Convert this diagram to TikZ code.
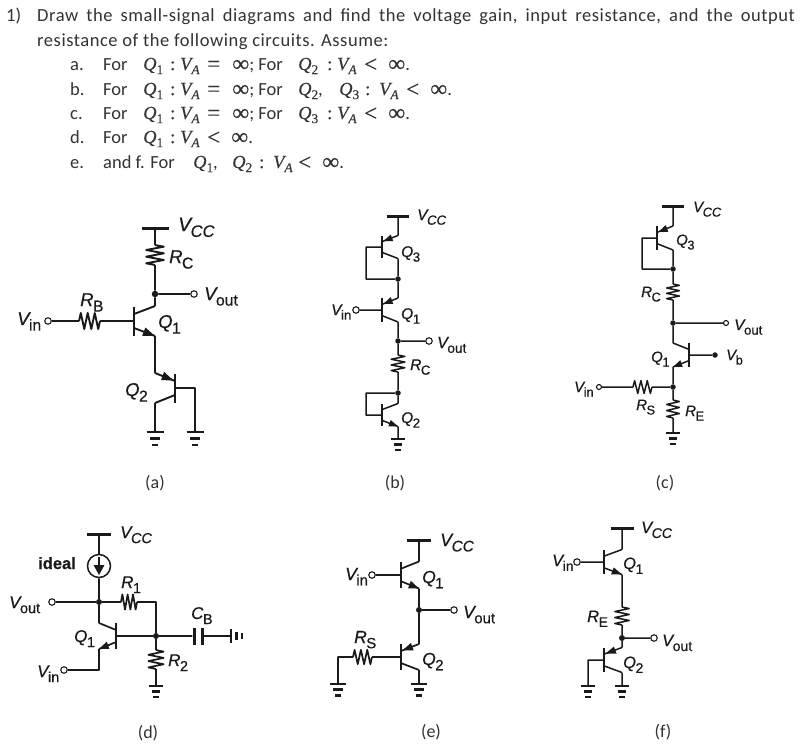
\documentclass[tikz,border=0pt]{standalone}
\usepackage{fontspec}
\setmainfont{Carlito}
\newfontfamily\wide[LetterSpace=3,WordSpace=1.7]{Carlito}
\newfontfamily\ckt[FakeBold=0.5]{Liberation Sans}
\newfontfamily\mth[FakeBold=0.2]{Liberation Serif}
\newcommand\sz[1]{\fontsize{#1}{#1}\selectfont}
\newcommand\lab[2]{{\itshape #1}\kern-.03em\raisebox{-.3em}{\scalebox{.85}{#2}}}
\newcommand\mQ[1]{{\mth\itshape Q}\raisebox{-.22em}{\scalebox{.72}{\mth #1}}}
\newcommand\mQb[1]{\makebox[27pt][l]{\mQ{#1}}}
\newcommand\mCl{\makebox[10pt][l]{\mth :}}
\newcommand\mV{\makebox[27pt][l]{{\mth\itshape V}\raisebox{-.22em}{\scalebox{.72}{\mth\itshape A}}}}
\newcommand\mEq{\makebox[25pt][l]{\raisebox{-.08em}{\scalebox{1.25}{\mth =}}}}
\newcommand\mLt{\makebox[24pt][l]{\raisebox{-.1em}{\scalebox{1.25}{\mth <}}}}
\newcommand\mInf{\raisebox{-.08em}{\scalebox{1.3}{\mth ∞}}}
\definecolor{ink}{HTML}{1A1A1A}
\definecolor{txt}{HTML}{333333}
\tikzset{
  wire/.style={draw=ink,line width=1.5pt,line join=round},
  barline/.style={draw=ink,line width=2.8pt},
  dot/.style={circle,fill=ink,inner sep=0pt,minimum size=6.5pt},
  term/.style={circle,draw=ink,fill=white,line width=1.1pt,inner sep=0pt,minimum size=6.5pt},
  rail/.style={rectangle,fill=ink,inner sep=0pt,minimum height=3pt},
  plate/.style={rectangle,fill=ink,inner sep=0pt,minimum width=3pt,minimum height=17pt},
  cl/.style={anchor=base west,inner sep=0pt,text=ink,font=\ckt},
  subcap/.style={inner sep=0pt,text=txt,font=\sz{18}},
  tl/.style={anchor=base west,inner sep=0pt,text=txt,font=\sz{18.5}},
  heavy/.style={wire/.append style={line width=1.9pt}},
  pics/bjtn/.style={code={
    \draw[barline] (0,-14.5)--(0,14.5);
    \coordinate (-b) at (0,0);
    \coordinate (-c) at (21,-15);
    \coordinate (-e) at (21,15);
    \draw[wire] (0,-7)--(-c);
    \draw[wire] (0,7)--(-e);
    \fill[ink] (-e)--(8.2,14.9)--(11.4,6.5)--cycle;
  }},
  pics/bjtp/.style={code={
    \draw[barline] (0,-14.5)--(0,14.5);
    \coordinate (-b) at (0,0);
    \coordinate (-c) at (21,-15);
    \coordinate (-e) at (21,15);
    \draw[wire] (0,-7)--(-c);
    \draw[wire] (0,7)--(-e);
    \fill[ink] (1.9,7.7)--(11.5,16.2)--(14.7,7.8)--cycle;
  }},
  pics/res/.style={code={
    \coordinate (-a) at (0,0);
    \coordinate (-z) at (20,0);
    \draw[wire] (-a)--(1.7,-8)--(5,8)--(8.3,-8)--(11.7,8)--(15,-8)--(18.3,8)--(-z);
  }},
  pics/gnd/.style={code={
    \coordinate (-t) at (0,0);
    \draw[ink,line width=2.8pt] (-8.5,0)--(8.5,0);
    \draw[ink,line width=2.8pt] (-5.2,6.5)--(5.2,6.5);
    \draw[ink,line width=2.8pt] (-3,13)--(3,13);
  }}
}
\begin{document}
\begin{tikzpicture}[x=1pt,y=-1pt]
\useasboundingbox (0,0) rectangle (802,747);
\fill[white] (0,0) rectangle (802,747);
% ---------- question text
\node[tl] (t0) at (6,21) {1)};
\node[tl] (t1) at (37,21) {\wide Draw the small-signal diagrams and find the voltage gain, input resistance, and the output};
\node[tl] (t2) at (37,46) {\addfontfeature{LetterSpace=3}resistance of the following circuits. Assume:};
\node[tl] (la) at (70,70) {a.};
\node[tl] (fa) at (103,70) {For};
\node[tl] (ma) at (143,70) {\mQb{1}\mCl\mV\mEq\mInf; For};
\node[tl] (na) at (298,70) {\mQb{2}\kern2pt\mCl\mV\mLt\mInf.};
\node[tl] (lb) at (70,95) {b.};
\node[tl] (fb) at (103,95) {For};
\node[tl] (mb) at (143,95) {\mQb{1}\mCl\mV\mEq\mInf; For};
\node[tl] (nb) at (298,95) {\makebox[41pt][l]{\mQ{2},}\mQb{3}\kern-1pt\makebox[14pt][l]{\mth :}\mV\mLt\mInf.};
\node[tl] (lc) at (70,119) {c.};
\node[tl] (fc) at (103,119) {For};
\node[tl] (mc) at (143,119) {\mQb{1}\mCl\mV\mEq\mInf; For};
\node[tl] (nc) at (298,119) {\mQb{3}\kern2pt\mCl\mV\mLt\mInf.};
\node[tl] (ld) at (70,143) {d.};
\node[tl] (fd) at (103,143) {For};
\node[tl] (md) at (143,143) {\mQb{1}\mCl\mV\mLt\mInf.};
\node[tl] (le) at (70,168) {e.};
\node[tl] (fe) at (103,168) {and f. For};
\node[tl] (me) at (193,168) {\makebox[39pt][l]{\mQ{1},}\mQb{2}\kern-0pt\makebox[14pt][l]{\mth :}\makebox[25pt][l]{{\mth\itshape V}\raisebox{-.22em}{\scalebox{.72}{\mth\itshape A}}}\mLt\mInf.};
% ---------- (a)
\begin{scope}[heavy]
\node[rail,minimum width=27pt] (acc) at (155,228) {};
\pic[rotate=-90,xscale=1,yscale=1.1] (arc) at (155,245) {res};
\node[dot] (aj) at (155,294) {};
\node[term] (avo) at (194,294) {};
\pic (aq1) at (134,321) {bjtn};
\pic[xscale=-20/21,yscale=-1] (aq2) at (175,388) {bjtp};
\pic[xscale=21/20] (arb) at (79,321) {res};
\node[term] (avi) at (48,321) {};
\pic (ag1) at (155,432) {gnd};
\pic (ag2) at (195,432) {gnd};
\coordinate (abr) at (195,388);
\draw[wire] (acc)--(arc-a) (arc-z)--(aj)--(aq1-c) (aj)--(avo) (avi)--(arb-a) (arb-z)--(aq1-b) (aq1-e)--(aq2-e) (aq2-c)--(ag1-t) (aq2-b)--(abr)--(ag2-t);
\end{scope}
\node[cl,font=\ckt\sz{19.5}] (avcc) at (178,231) {\lab{V}{\itshape CC}};
\node[cl,font=\ckt\sz{18.5}] (arcl) at (169,263) {\lab{R}{C}};
\node[cl,font=\ckt\sz{18.5}] (arbl) at (80,306) {\lab{R}{B}};
\node[cl,font=\ckt\sz{18.5}] (avil) at (17,325) {\lab{V}{in}};
\node[cl,font=\ckt\sz{18.5}] (avol) at (204,300) {\lab{V}{out}};
\node[cl,font=\ckt\sz{18.5}] (aq1l) at (158,328) {\lab{Q}{1}};
\node[cl,font=\ckt\sz{18.5}] (aq2l) at (125,396) {\lab{Q}{2}};
\node[subcap] (capa) at (155,483) {(a)};
% ---------- (b)
\node[rail,minimum width=22pt] (bcc) at (398,216) {};
\pic[xscale=16/21,yscale=-11.5/15] (bq3) at (382,247) {bjtp};
\coordinate (bb3) at (366,247);
\coordinate (bb3d) at (366,279);
\node[dot,minimum size=5.5pt] (bj1) at (398,279) {};
\pic[xscale=16/21,yscale=-12/15] (bq1) at (382,310) {bjtp};
\node[term] (bvi) at (356,310) {};
\node[dot,minimum size=5.5pt] (bj2) at (398,341) {};
\node[term] (bvo) at (429,341) {};
\pic[rotate=-90,xscale=17/20,yscale=.85] (brc) at (398,355) {res};
\node[dot,minimum size=5.5pt] (bj3) at (398,393) {};
\pic[xscale=16/21,yscale=11.5/15] (bq2) at (382,415) {bjtn};
\coordinate (bb2) at (366,415);
\coordinate (bb2u) at (366,393);
\pic[scale=.85] (bg) at (398,439) {gnd};
\draw[wire] (bcc)--(bq3-e) (bq3-c)--(bj1)--(bq1-e) (bq3-b)--(bb3)--(bb3d)--(bj1) (bvi)--(bq1-b) (bq1-c)--(bj2)--(bvo) (bj2)--(brc-a) (brc-z)--(bj3)--(bq2-c) (bq2-b)--(bb2)--(bb2u)--(bj3) (bq2-e)--(bg-t);
\node[cl,font=\ckt\sz{15.5}] (bvcc) at (417,220) {\lab{V}{\itshape CC}};
\node[cl,font=\ckt\sz{15.5}] (bq3l) at (401,257) {\lab{Q}{3}};
\node[cl,font=\ckt\sz{15.5}] (bvil) at (331,315) {\lab{V}{in}};
\node[cl,font=\ckt\sz{15.5}] (bq1l) at (401,319) {\lab{Q}{1}};
\node[cl,font=\ckt\sz{16}] (bvol) at (437,348) {\lab{V}{out}};
\node[cl,font=\ckt\sz{15.5}] (brcl) at (410,370) {\lab{R}{C}};
\node[cl,font=\ckt\sz{15.5}] (bq2l) at (401,423) {\lab{Q}{2}};
\node[subcap] (capb) at (395,483) {(b)};
% ---------- (c)
\node[rail,minimum width=22pt] (ccc) at (673,206) {};
\pic[xscale=16/21,yscale=-12/15] (cq3) at (657,238) {bjtp};
\coordinate (cb3) at (642,238);
\coordinate (cb3d) at (642,269);
\node[dot,minimum size=5.5pt] (cj1) at (673,269) {};
\pic[rotate=-90,xscale=16/20,yscale=.8] (crc) at (673,284) {res};
\node[dot,minimum size=5.5pt] (cj2) at (673,323) {};
\node[term,minimum size=5pt] (cvo) at (726,323) {};
\pic[xscale=-16/21,yscale=12/15] (cq1) at (689,355) {bjtn};
\node[dot,minimum size=5.5pt] (cvb) at (715,355) {};
\node[dot,minimum size=5.5pt] (cj3) at (673,387) {};
\node[term,minimum size=5pt] (cvi) at (599,387) {};
\pic[xscale=19/20,yscale=.8] (crs) at (633,387) {res};
\pic[rotate=-90,xscale=18/20,yscale=.8] (cre) at (673,400) {res};
\pic[scale=.85] (cg) at (673,433) {gnd};
\draw[wire] (ccc)--(cq3-e) (cq3-c)--(cj1)--(crc-a) (cq3-b)--(cb3)--(cb3d)--(cj1) (crc-z)--(cj2)--(cq1-c) (cj2)--(cvo) (cq1-b)--(cvb) (cq1-e)--(cj3)--(cre-a) (cvi)--(crs-a) (crs-z)--(cj3) (cre-z)--(cg-t);
\node[cl,font=\ckt\sz{15}] (cvcc) at (693,212) {\lab{V}{\itshape CC}};
\node[cl,font=\ckt\sz{15}] (cq3l) at (676,245) {\lab{Q}{3}};
\node[cl,font=\ckt\sz{15}] (crcl) at (641,297) {\lab{R}{C}};
\node[cl,font=\ckt\sz{15.5}] (cvol) at (734,330) {\lab{V}{out}};
\node[cl,font=\ckt\sz{15}] (cq1l) at (651,362) {\lab{Q}{1}};
\node[cl,font=\ckt\sz{15}] (cvbl) at (726,360) {\lab{V}{b}};
\node[cl,font=\ckt\sz{15}] (cvil) at (574,392) {\lab{V}{in}};
\node[cl,font=\ckt\sz{15}] (crsl) at (636,410) {\lab{R}{S}};
\node[cl,font=\ckt\sz{15}] (crel) at (685,416) {\lab{R}{E}};
\node[subcap] (capc) at (665,483) {(c)};
% ---------- (d)
\begin{scope}[wire/.append style={line width=1.7pt}]
\node[rail,minimum width=24pt] (dcc) at (99,534) {};
\node[circle,draw=ink,line width=1.5pt,minimum size=23pt,inner sep=0pt] (dis) at (99,566) {};
\coordinate (dist) at (99,557);
\coordinate (disb) at (99,568);
\draw[wire] (dist)--(disb);
\fill[ink] (93.5,565)--(104.5,565)--(99,575)--cycle;
\node[dot,minimum size=6pt] (dj1) at (99,602) {};
\node[term] (dvo) at (52,602) {};
\pic[xscale=16/20,yscale=.95] (dr1) at (121,602) {res};
\coordinate (dr1e) at (156,602);
\node[dot,minimum size=6pt] (dj2) at (156,636) {};
\pic[xscale=-17/21,yscale=13/15] (dq1) at (116,636) {bjtn};
\coordinate (dq1d) at (99,670);
\node[term] (dvi) at (64,670) {};
\pic[rotate=-90,xscale=19/20,yscale=.95] (dr2) at (156,650) {res};
\pic[scale=.85] (dg) at (156,686) {gnd};
\node[plate] (dc1) at (194,636) {};
\node[plate] (dc2) at (202,636) {};
\pic[rotate=90,scale=.85] (dg2) at (231,636) {gnd};
\draw[wire] (dcc)--(dis) (dis)--(dj1)--(dq1-c) (dj1)--(dvo) (dj1)--(dr1-a) (dr1-z)--(dr1e)--(dj2) (dq1-b)--(dj2) (dj2)--(dc1) (dc2)--(dg2-t) (dj2)--(dr2-a) (dr2-z)--(dg-t) (dq1-e)--(dq1d)--(dvi);
\end{scope}
\node[cl,font=\ckt\sz{17}] (dvcc) at (120,538) {\lab{V}{\itshape CC}};
\node[cl,font=\ckt\sz{16.5}\bfseries] (didl) at (38,569) {ideal};
\node[cl,font=\ckt\sz{17}] (dr1l) at (121,588) {\lab{R}{1}};
\node[cl,font=\ckt\sz{17}] (dvol) at (9,608) {\lab{V}{out}};
\node[cl,font=\ckt\sz{17}] (dcbl) at (191,619) {\lab{C}{B}};
\node[cl,font=\ckt\sz{17}] (dq1l) at (74,642) {\lab{Q}{1}};
\node[cl,font=\ckt\sz{17}] (dr2l) at (168,666) {\lab{R}{2}};
\node[cl,font=\ckt\sz{17}] (dvil) at (37,677) {\lab{V}{in}};
\node[subcap] (capd) at (148,733) {(d)};
% ---------- (e)
\begin{scope}[wire/.append style={line width=1.7pt}]
\node[rail,minimum width=24pt] (ecc) at (419,540) {};
\pic[xscale=18/21,yscale=13.5/15] (eq1) at (401,575) {bjtn};
\node[term] (evi) at (372,575) {};
\node[dot,minimum size=6pt] (ej) at (419,610) {};
\node[term] (evo) at (454,610) {};
\pic[xscale=18/21,yscale=-13/15] (eq2) at (401,657) {bjtp};
\pic[xscale=19/20,yscale=.9] (ers) at (353,657) {res};
\coordinate (erl) at (338,657);
\pic[scale=.9] (eg1) at (338,684) {gnd};
\pic[scale=.9] (eg2) at (419,684) {gnd};
\draw[wire] (ecc)--(eq1-c) (evi)--(eq1-b) (eq1-e)--(ej)--(evo) (ej)--(eq2-e) (eq2-b)--(ers-z) (ers-a)--(erl)--(eg1-t) (eq2-c)--(eg2-t);
\end{scope}
\node[cl,font=\ckt\sz{18}] (evcc) at (440,546) {\lab{V}{\itshape CC}};
\node[cl,font=\ckt\sz{17.5}] (evil) at (345,580) {\lab{V}{in}};
\node[cl,font=\ckt\sz{17.5}] (eq1l) at (422,583) {\lab{Q}{1}};
\node[cl,font=\ckt\sz{17.5}] (evol) at (463,618) {\lab{V}{out}};
\node[cl,font=\ckt\sz{17.5}] (ersl) at (354,643) {\lab{R}{S}};
\node[cl,font=\ckt\sz{17.5}] (eq2l) at (422,665) {\lab{Q}{2}};
\node[subcap] (cape) at (431,732) {(e)};
% ---------- (f)
\node[rail,minimum width=23pt] (fcc) at (622,528) {};
\pic[xscale=18/21,yscale=12.5/15] (fq1) at (604,562) {bjtn};
\node[term] (fvi) at (577,562) {};
\pic[rotate=-90,xscale=18/20,yscale=.9] (fre) at (622,607) {res};
\node[dot,minimum size=6pt] (fj) at (622,638) {};
\node[term] (fvo) at (654,638) {};
\pic[xscale=18/21,yscale=-12.5/15] (fq2) at (604,660) {bjtp};
\coordinate (fbl) at (588,660);
\pic[scale=.85] (fg1) at (588,686) {gnd};
\pic[scale=.85] (fg2) at (622,686) {gnd};
\draw[wire] (fcc)--(fq1-c) (fvi)--(fq1-b) (fq1-e)--(fre-a) (fre-z)--(fj)--(fvo) (fj)--(fq2-e) (fq2-b)--(fbl)--(fg1-t) (fq2-c)--(fg2-t);
\node[cl,font=\ckt\sz{16.5}] (fvcc) at (641,533) {\lab{V}{\itshape CC}};
\node[cl,font=\ckt\sz{16.5}] (fvil) at (552,566) {\lab{V}{in}};
\node[cl,font=\ckt\sz{16.5}] (fq1l) at (623,569) {\lab{Q}{1}};
\node[cl,font=\ckt\sz{16.5}] (frel) at (587,622) {\lab{R}{E}};
\node[cl,font=\ckt\sz{16.5}] (fvol) at (662,646) {\lab{V}{out}};
\node[cl,font=\ckt\sz{16.5}] (fq2l) at (623,668) {\lab{Q}{2}};
\node[subcap] (capf) at (663,732) {(f)};
\end{tikzpicture}
\end{document}
